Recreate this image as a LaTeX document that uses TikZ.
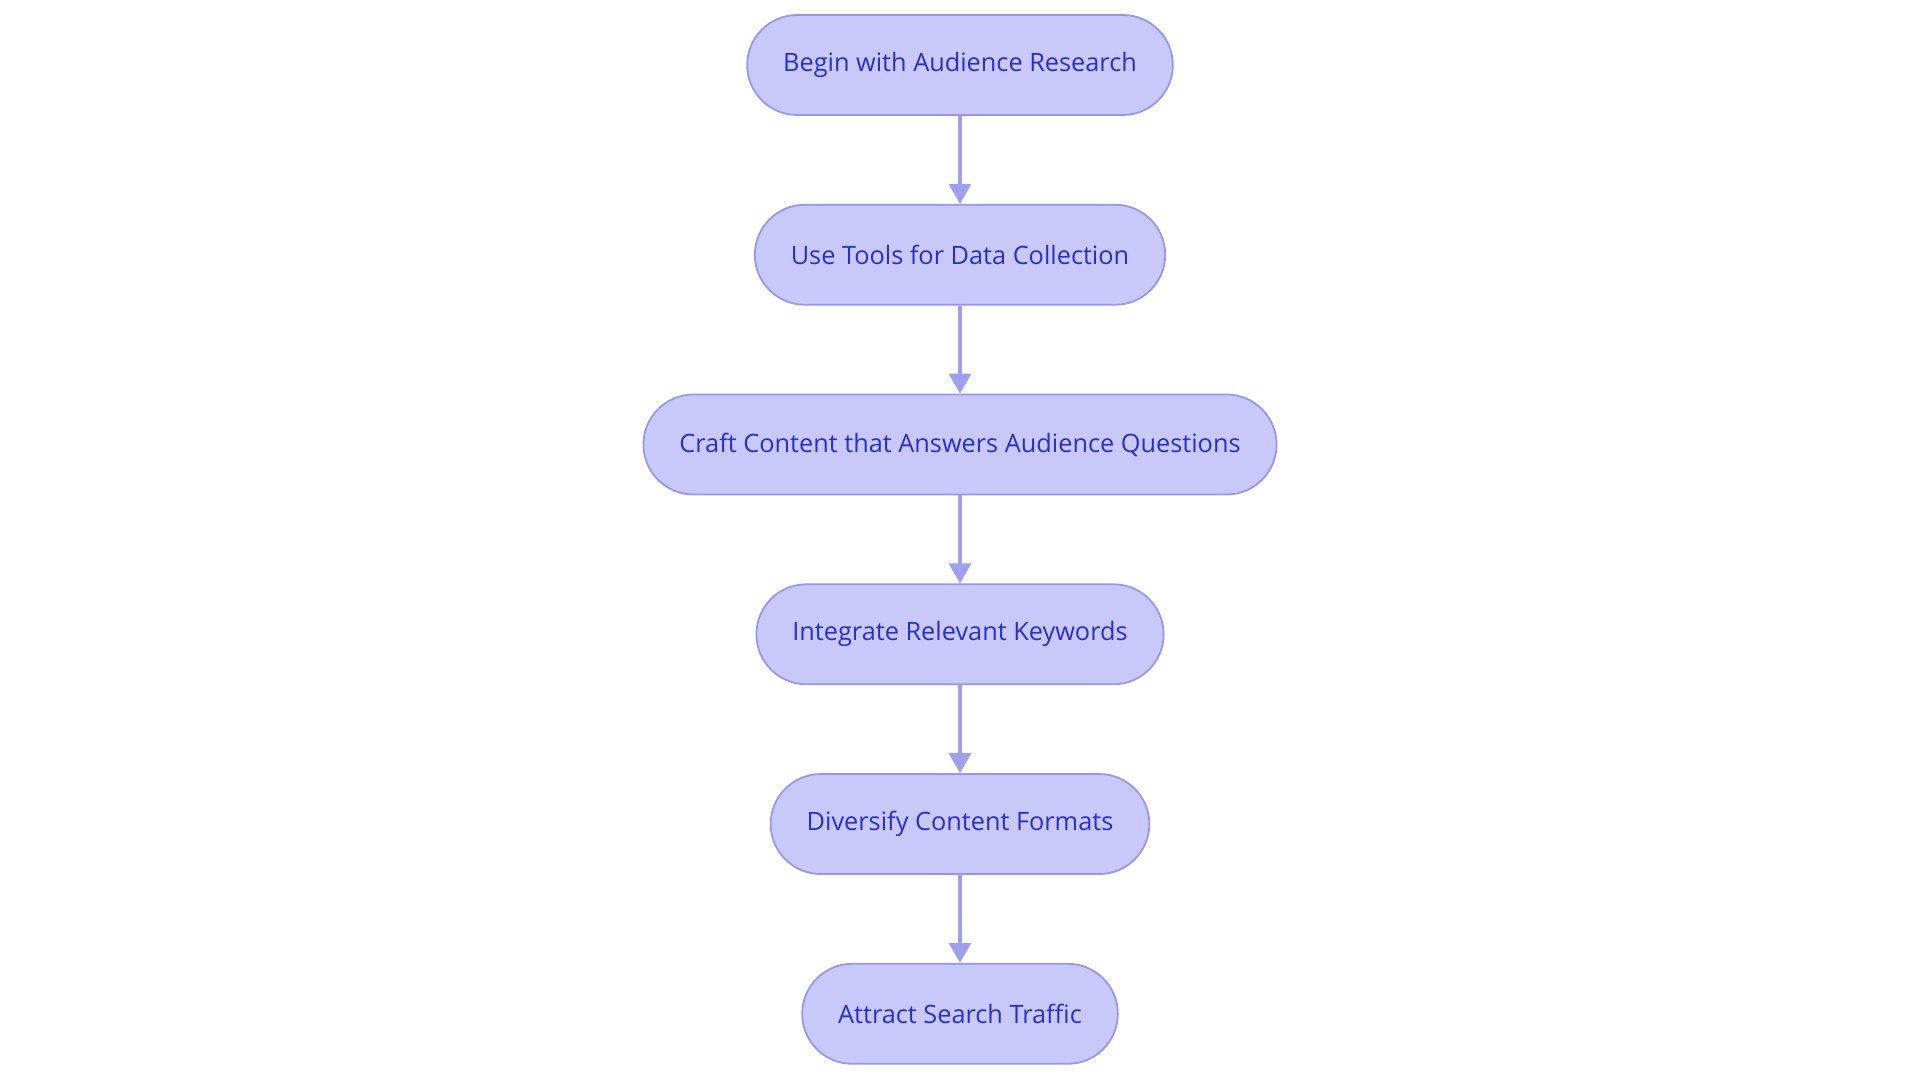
\documentclass[tikz,border=0pt]{standalone}
\usepackage{fontspec}
\setmainfont{Open Sans}
\usetikzlibrary{
  positioning,
  arrows.meta}
\definecolor{stepfill}{HTML}{C8C9FA}
\definecolor{stepline}{HTML}{9596EC}
\definecolor{steptext}{HTML}{2B2FC9}
\definecolor{arrowcol}{HTML}{9EA0EE}

\begin{document}
\begin{tikzpicture}[
  >={Triangle[length=0.2cm,width=0.22cm]},
  stepbox/.style={draw=stepline,fill=stepfill,text=steptext,line width=0.5pt,
    rounded corners=0.5cm,minimum height=1cm,inner xsep=0.36cm,
    font=\fontsize{7.2pt}{8.6pt}\selectfont},
  flow/.style={->,draw=arrowcol,line width=0.9pt}
]%
  \useasboundingbox (0,0) rectangle (19.2,-10.83);

  \node[stepbox] (research) at (9.6,-0.65) {Begin with Audience Research};
  \node[stepbox,below=0.88cm of research] (tools) {Use Tools for Data Collection};
  \node[stepbox,below=0.88cm of tools] (craft) {Craft Content that Answers Audience Questions};
  \node[stepbox,below=0.88cm of craft] (keywords) {Integrate Relevant Keywords};
  \node[stepbox,below=0.88cm of keywords] (formats) {Diversify Content Formats};
  \node[stepbox,below=0.88cm of formats] (traffic) {Attract Search Traffic};

  \draw[flow](research)--(tools);
  \draw[flow](tools)--(craft);
  \draw[flow](craft)--(keywords);
  \draw[flow](keywords)--(formats);
  \draw[flow](formats)--(traffic);
\end{tikzpicture}
\end{document}
